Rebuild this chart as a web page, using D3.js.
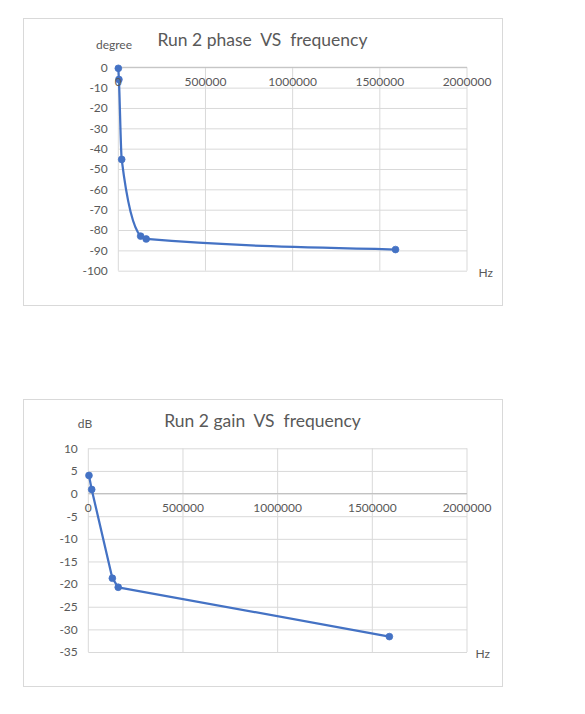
<!DOCTYPE html>
<html>
<head>
<meta charset="utf-8">
<script src="https://cdn.jsdelivr.net/npm/d3@7"></script>
<style>
  html, body { margin: 0; padding: 0; background: #ffffff; }
  svg { display: block; }
  text { font-family: Lato, "Open Sans", "Liberation Sans", sans-serif; fill: #595959; }
</style>
</head>
<body>
<svg id="chart" width="585" height="714"></svg>
<script>
// ---------- data ----------
const phaseTitle = "Run 2 phase  VS  frequency";
const phaseFreq = [200, 3500, 19500, 128000, 160000, 1590000];
const phaseDeg  = [-0.5, -6, -45.3, -83, -84.4, -89.6];
const phaseYTicks = [0, -10, -20, -30, -40, -50, -60, -70, -80, -90, -100];

const gainTitle = "Run 2 gain  VS  frequency";
const gainFreq = [3500, 18000, 127000, 158000, 1590000];
const gainDb   = [4.0, 0.9, -18.7, -20.7, -31.6];
const gainYTicks = [10, 5, 0, -5, -10, -15, -20, -25, -30, -35];

const freqTicks = [0, 500000, 1000000, 1500000, 2000000];

// ---------- drawing ----------
const svg = d3.select("#chart");
const BLUE = "#4472C4";
const GRID = "#d9d9d9";

function drawChart(cfg) {
  const g = svg.append("g");
  // outer chart border
  g.append("rect")
    .attr("x", cfg.box[0]).attr("y", cfg.box[1])
    .attr("width", cfg.box[2] - cfg.box[0]).attr("height", cfg.box[3] - cfg.box[1])
    .attr("fill", "#fff").attr("stroke", GRID).attr("stroke-width", 1);

  const x = d3.scaleLinear().domain([0, 2000000]).range([cfg.plot[0], cfg.plot[2]]);
  const y = d3.scaleLinear().domain(cfg.yDomain).range([cfg.plot[3], cfg.plot[1]]);

  // horizontal gridlines + y tick labels
  const yAxis = d3.axisLeft(y).tickValues(cfg.yTicks).tickSize(-(cfg.plot[2] - cfg.plot[0])).tickFormat(d => d).tickPadding(10.5);
  const ya = g.append("g").attr("transform", `translate(${cfg.plot[0]},0)`).call(yAxis);
  ya.select(".domain").remove();
  ya.selectAll(".tick line").attr("stroke", GRID).attr("stroke-width", 1);
  ya.selectAll(".tick text").attr("font-size", 12).style("fill", "#595959")
    .attr("font-family", "Lato, 'Open Sans', sans-serif");

  // vertical gridlines
  const xGrid = g.append("g");
  xGrid.selectAll("line").data(freqTicks).join("line")
    .attr("x1", d => x(d)).attr("x2", d => x(d))
    .attr("y1", cfg.plot[1]).attr("y2", cfg.plot[3])
    .attr("stroke", GRID).attr("stroke-width", 1);

  // x axis line at y = 0
  g.append("line")
    .attr("x1", cfg.plot[0]).attr("x2", cfg.plot[2])
    .attr("y1", y(0)).attr("y2", y(0))
    .attr("stroke", "#bfbfbf").attr("stroke-width", 1);

  // series line
  const line = d3.line().x(d => x(d[0])).y(d => y(d[1])).curve(cfg.curve);
  const pts = cfg.xs.map((v, i) => [v, cfg.ys[i]]);
  g.append("path").datum(pts).attr("d", line)
    .attr("fill", "none").attr("stroke", BLUE).attr("stroke-width", 2.25)
    .attr("stroke-linejoin", "round");
  g.selectAll("circle.pt").data(pts).join("circle")
    .attr("class", "pt")
    .attr("cx", d => x(d[0])).attr("cy", d => y(d[1])).attr("r", 3.4)
    .attr("fill", BLUE).attr("stroke", BLUE).attr("stroke-width", 0.75);

  // x tick labels (below y=0 line)
  g.selectAll("text.xl").data(freqTicks).join("text")
    .attr("class", "xl")
    .attr("x", d => x(d)).attr("y", y(0) + 18.5)
    .attr("text-anchor", "middle").attr("font-size", 12)
    .text(d => d);

  // title
  g.append("text").attr("x", cfg.titleX).attr("y", cfg.titleY)
    .attr("text-anchor", "middle").attr("font-size", 17.5)
    .style("white-space", "pre").attr("xml:space", "preserve")
    .text(cfg.title);

  // axis unit labels
  g.append("text").attr("x", cfg.unitY[0]).attr("y", cfg.unitY[1])
    .attr("text-anchor", "middle").attr("font-size", 12).text(cfg.unitYText);
  g.append("text").attr("x", cfg.unitX[0]).attr("y", cfg.unitX[1])
    .attr("text-anchor", "start").attr("font-size", 12).text("Hz");
}

drawChart({
  box: [23.5, 18.5, 502.5, 305.5],
  plot: [118.3, 67.3, 467, 270.7],
  yDomain: [-100, 0],
  yTicks: phaseYTicks,
  xs: phaseFreq, ys: phaseDeg,
  curve: d3.curveMonotoneX,
  title: phaseTitle, titleX: 262.5, titleY: 46,
  unitY: [114, 48.5], unitYText: "degree",
  unitX: [478.5, 277]
});

drawChart({
  box: [23.5, 399.5, 502.5, 686.5],
  plot: [88.3, 448.3, 467, 652],
  yDomain: [-35, 10],
  yTicks: gainYTicks,
  xs: gainFreq, ys: gainDb,
  curve: d3.curveLinear,
  title: gainTitle, titleX: 262.5, titleY: 427,
  unitY: [85, 427.5], unitYText: "dB",
  unitX: [475.5, 657.5]
});
</script>
</body>
</html>
